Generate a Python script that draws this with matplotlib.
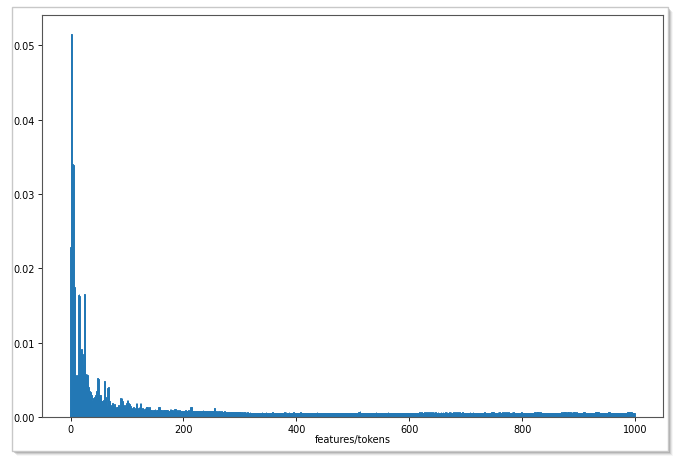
import matplotlib
matplotlib.use("Agg")
import matplotlib.pyplot as plt
from matplotlib.patches import Rectangle

# Доли признаков/токенов, в единицах 1e-5, по 20 на строку
freq_1e5 = [
    2290, 5150, 5150, 3400, 3400, 3390, 1750, 1750, 1740, 550, 540, 560, 550, 560, 1640, 1650, 1630, 910, 900, 920,
    880, 700, 690, 850, 1660, 1650, 1640, 580, 570, 580, 560, 420, 400, 380, 350, 340, 310, 300, 200, 220,
    250, 260, 270, 280, 300, 340, 350, 380, 530, 520, 510, 290, 280, 290, 270, 220, 210, 220, 230, 490,
    480, 470, 270, 260, 150, 140, 390, 400, 390, 220, 210, 150, 140, 160, 190, 180, 140, 130, 170, 160,
    120, 140, 110, 130, 150, 160, 130, 110, 150, 250, 240, 250, 210, 200, 150, 140, 160, 120, 130, 190,
    230, 220, 230, 190, 180, 160, 150, 140, 110, 100, 120, 110, 130, 100, 110, 120, 190, 180, 190, 120,
    110, 130, 120, 190, 180, 190, 110, 100, 120, 110, 100, 90, 120, 110, 140, 130, 140, 100, 110, 90,
    130, 120, 100, 90, 100, 80, 90, 100, 80, 90, 110, 80, 90, 80, 90, 80, 140, 130, 140, 100,
    90, 100, 90, 80, 90, 100, 90, 80, 90, 80, 90, 80, 90, 80, 85, 80, 110, 100, 110, 90,
    80, 90, 85, 80, 110, 100, 110, 90, 80, 85, 90, 80, 85, 90, 80, 75, 80, 85, 80, 75,
    80, 85, 80, 85, 90, 85, 80, 85, 80, 90, 85, 80, 120, 134, 132, 130, 85, 80, 85, 80,
    80, 75, 80, 80, 75, 80, 85, 80, 78, 80, 85, 80, 78, 80, 82, 90, 80, 85, 80, 78,
    80, 75, 78, 80, 82, 80, 78, 80, 85, 80, 78, 80, 82, 78, 120, 118, 80, 78, 75, 72,
    75, 70, 72, 75, 78, 72, 70, 75, 72, 70, 68, 72, 70, 75, 70, 68, 72, 70, 68, 70,
    68, 70, 72, 68, 66, 70, 68, 66, 70, 68, 66, 64, 68, 66, 64, 66, 64, 62, 66, 64,
    62, 64, 62, 60, 64, 62, 60, 62, 64, 62, 60, 62, 60, 58, 62, 60, 58, 60, 62, 60,
    58, 60, 58, 56, 58, 60, 56, 55, 56, 58, 55, 54, 56, 55, 54, 55, 56, 54, 55, 62,
    54, 55, 53, 60, 54, 53, 62, 55, 54, 53, 58, 54, 53, 52, 60, 54, 53, 55, 62, 54,
    53, 54, 58, 53, 52, 54, 53, 60, 54, 53, 52, 53, 54, 53, 52, 54, 53, 52, 60, 62,
    58, 54, 62, 60, 55, 54, 60, 62, 54, 53, 58, 54, 60, 53, 52, 62, 54, 58, 53, 52,
    54, 60, 53, 52, 58, 54, 53, 62, 54, 53, 52, 60, 53, 52, 54, 58, 53, 52, 53, 54,
    52, 53, 54, 52, 53, 52, 54, 53, 52, 53, 54, 52, 53, 52, 54, 53, 52, 62, 53, 52,
    53, 54, 52, 53, 52, 54, 53, 52, 53, 52, 54, 53, 52, 53, 54, 52, 53, 52, 54, 53,
    52, 53, 60, 54, 53, 52, 58, 53, 52, 54, 53, 60, 52, 53, 52, 54, 60, 53, 52, 53,
    54, 52, 53, 52, 54, 53, 52, 53, 54, 52, 53, 52, 54, 53, 52, 53, 54, 52, 53, 52,
    53, 54, 52, 53, 52, 54, 53, 52, 53, 54, 62, 53, 72, 74, 54, 52, 53, 52, 54, 53,
    52, 53, 54, 52, 53, 52, 54, 53, 52, 53, 54, 52, 53, 52, 54, 53, 52, 53, 54, 52,
    53, 62, 60, 54, 58, 53, 52, 54, 53, 52, 53, 54, 52, 53, 52, 54, 53, 52, 53, 54,
    52, 60, 62, 53, 52, 54, 53, 52, 53, 54, 52, 53, 52, 54, 53, 52, 53, 54, 52, 53,
    52, 54, 53, 52, 53, 54, 52, 53, 52, 54, 53, 52, 53, 54, 52, 53, 52, 54, 53, 52,
    53, 54, 52, 53, 52, 54, 53, 52, 53, 54, 52, 53, 52, 54, 53, 52, 53, 60, 62, 54,
    53, 58, 62, 54, 60, 53, 58, 62, 54, 53, 60, 62, 58, 54, 62, 60, 53, 58, 62, 54,
    60, 62, 53, 58, 62, 60, 54, 62, 58, 53, 60, 62, 54, 58, 60, 53, 62, 60, 58, 54,
    62, 60, 53, 58, 62, 54, 60, 62, 58, 54, 60, 62, 58, 53, 62, 60, 54, 58, 62, 60,
    53, 58, 62, 60, 54, 62, 58, 60, 53, 62, 60, 58, 54, 60, 62, 53, 54, 52, 53, 54,
    52, 53, 54, 52, 53, 54, 52, 60, 62, 58, 53, 54, 60, 62, 58, 53, 60, 54, 52, 53,
    54, 52, 53, 52, 54, 53, 52, 53, 54, 52, 53, 52, 60, 62, 60, 54, 53, 52, 54, 53,
    52, 53, 54, 52, 53, 52, 66, 68, 66, 62, 53, 54, 52, 53, 54, 52, 60, 62, 58, 60,
    62, 58, 60, 54, 60, 62, 58, 53, 60, 62, 58, 60, 62, 54, 58, 60, 62, 58, 60, 54,
    53, 60, 62, 58, 60, 62, 58, 54, 53, 52, 54, 53, 52, 53, 54, 52, 53, 54, 66, 68,
    57, 58, 56, 57, 58, 56, 57, 58, 56, 57, 58, 56, 57, 58, 56, 57, 58, 56, 57, 58,
    56, 57, 62, 64, 60, 62, 64, 62, 60, 64, 62, 60, 62, 64, 58, 57, 56, 57, 58, 56,
    57, 58, 56, 57, 58, 56, 57, 58, 56, 57, 58, 56, 57, 58, 56, 57, 58, 56, 57, 58,
    56, 57, 58, 56, 57, 58, 56, 57, 58, 56, 62, 60, 62, 64, 60, 62, 60, 62, 64, 60,
    62, 60, 64, 62, 60, 62, 64, 60, 62, 60, 64, 62, 60, 62, 64, 60, 62, 58, 57, 56,
    57, 58, 56, 57, 58, 56, 57, 58, 68, 70, 66, 58, 56, 57, 58, 56, 57, 58, 56, 57,
    58, 56, 57, 58, 56, 57, 58, 56, 57, 68, 70, 66, 68, 70, 66, 68, 58, 56, 57, 58,
    56, 57, 58, 56, 57, 58, 56, 57, 58, 56, 57, 58, 62, 64, 66, 62, 57, 58, 56, 57,
    58, 56, 57, 58, 56, 57, 58, 56, 57, 58, 56, 57, 58, 56, 57, 58, 56, 57, 58, 56,
    57, 58, 56, 57, 58, 56, 70, 72, 68, 70, 72, 70, 68, 72, 70, 58, 57, 58, 56, 57,
]
assert len(freq_1e5) == 1000, len(freq_1e5)

features = list(range(len(freq_1e5)))  # номера признаков/токенов
freq = [v / 1e5 for v in freq_1e5]

W, H = 680, 464
fig = plt.figure(figsize=(W / 100, H / 100), dpi=100)

# Рамка скриншота: тень справа и снизу, затем светлая рамка (под осями)
for off, a in [(5, 0.06), (4, 0.12), (3, 0.2), (2, 0.3), (1, 0.4)]:
    fig.add_artist(Rectangle(((12 + off) / W, (12 - off) / H), 656 / W, 444 / H,
                             transform=fig.transFigure, facecolor="#707070",
                             edgecolor="none", alpha=a, zorder=-3))
fig.add_artist(Rectangle((12 / W, 12 / H), 656 / W, 444 / H,
                         transform=fig.transFigure, facecolor="white",
                         edgecolor="#c8c8c8", lw=1.0, zorder=-2))

ax = fig.add_axes([42 / W, 46 / H, 621 / W, 402 / H])
ax.set_zorder(1)
ax.bar(features, freq, width=1.0, color="#2378b5", edgecolor="#2378b5", linewidth=0.7)
ax.set_ylim(0, None)
ax.set_xlabel("features/tokens", fontsize=7, labelpad=0)
ax.tick_params(labelsize=7, length=3, width=0.6, pad=2)
for s in ax.spines.values():
    s.set_color("#555555")
    s.set_linewidth(0.8)

plt.savefig("out.png", dpi=100)
